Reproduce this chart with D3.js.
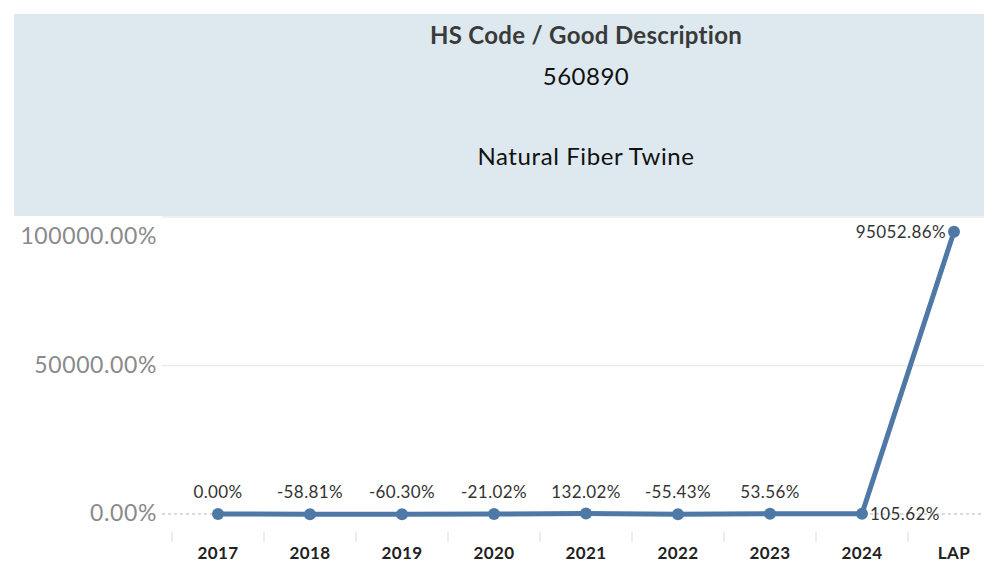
<!DOCTYPE html>
<html>
<head>
<meta charset="utf-8">
<script src="https://cdn.jsdelivr.net/npm/d3@7"></script>
<style>
  html, body { margin: 0; padding: 0; background: #fff; }
  svg { display: block; }
</style>
</head>
<body>
<svg id="chart" width="984" height="564"></svg>
<script>
// Year-over-year change for HS 560890
const categories = ["2017", "2018", "2019", "2020", "2021", "2022", "2023", "2024", "LAP"];
const changePct  = [0.00, -58.81, -60.30, -21.02, 132.02, -55.43, 53.56, 105.62, 95052.86];
const yTicks     = [0, 50000, 100000];
const headerTitle = "HS Code / Good Description";
const hsCode      = "560890";
const goodDesc    = "Natural Fiber Twine";

const svg = d3.select("#chart");
const W = 984, H = 564;
const FONT = "Lato, 'Open Sans', sans-serif";

const pane = { left: 162, right: 1010, top: 217, bottom: 514 };
const band = { start: 172, width: 92 };

// Header panel
svg.append("rect")
  .attr("x", 14).attr("y", 14)
  .attr("width", W - 14).attr("height", 202)
  .attr("fill", "#dde9ef");

const cx = (pane.left + pane.right) / 2;
const header = svg.append("g").attr("font-family", FONT)
  .attr("text-anchor", "middle");
header.append("text").attr("x", cx).attr("y", 36).attr("dy", "0.35em")
  .attr("font-size", 24).attr("font-weight", 700).attr("fill", "#3a3a3a")
  .attr("letter-spacing", 0.3)
  .text(headerTitle);
header.append("text").attr("x", cx).attr("y", 77).attr("dy", "0.35em")
  .attr("font-size", 24).attr("fill", "#111").attr("letter-spacing", 0.5)
  .text(hsCode);
header.append("text").attr("x", cx).attr("y", 157).attr("dy", "0.35em")
  .attr("font-size", 24).attr("fill", "#111").attr("letter-spacing", 0.6)
  .text(goodDesc);

// Scales
const x = d3.scaleBand()
  .domain(categories)
  .range([band.start, band.start + band.width * categories.length])
  .padding(0);
const y = d3.scaleLinear()
  .domain([0, 100000])
  .range([pane.bottom, pane.top]);

// Pane top border
svg.append("line")
  .attr("x1", pane.left).attr("x2", W)
  .attr("y1", pane.top).attr("y2", pane.top)
  .attr("stroke", "#ececec").attr("stroke-width", 1.5);

// Gridlines (non-zero)
svg.append("g").selectAll("line")
  .data(yTicks.filter(d => d !== 0 && y(d) > pane.top + 2))
  .join("line")
  .attr("x1", pane.left).attr("x2", W)
  .attr("y1", d => y(d)).attr("y2", d => y(d))
  .attr("stroke", "#ebebeb").attr("stroke-width", 1.5);

// Zero line
svg.append("line")
  .attr("x1", pane.left).attr("x2", W)
  .attr("y1", y(0)).attr("y2", y(0))
  .attr("stroke", "#b5b5b5").attr("stroke-width", 1.2)
  .attr("stroke-dasharray", "3,3");

// Percent formatter with a plain hyphen for negatives
const fmt = d => d3.format(".2f")(d).replace("\u2212", "-") + "%";

// Y axis labels
const yAxis = d3.axisLeft(y).tickValues(yTicks).tickSize(0).tickPadding(0)
  .tickFormat(fmt);
const yG = svg.append("g").attr("transform", `translate(157,0)`).call(yAxis);
yG.select(".domain").remove();
yG.selectAll("text")
  .attr("font-family", FONT)
  .attr("font-size", 23).attr("letter-spacing", 0.6).attr("fill", "#8a8a8a");
// keep the top label inside the pane
yG.selectAll(".tick").attr("transform", d => `translate(0,${Math.max(y(d), pane.top + 20)})`);

// X axis: band separators and labels
const xAxis = d3.axisBottom(x).tickSize(0).tickPadding(0);
const xG = svg.append("g").attr("transform", `translate(0,${pane.bottom})`).call(xAxis);
xG.select(".domain").remove();
xG.selectAll("text")
  .attr("y", 39).attr("dy", "0.35em")
  .attr("font-family", FONT)
  .attr("font-size", 17).attr("font-weight", 700).attr("letter-spacing", 0.4)
  .attr("fill", "#222");

svg.append("g").selectAll("line")
  .data(categories)
  .join("line")
  .attr("x1", d => x(d)).attr("x2", d => x(d))
  .attr("y1", 532).attr("y2", 542)
  .attr("stroke", "#e6e6e6").attr("stroke-width", 1.5);

// Line and points
const data = categories.map((c, i) => ({ cat: c, v: changePct[i], i }));
const color = "#4e79a7";

svg.append("path")
  .datum(data)
  .attr("fill", "none")
  .attr("stroke", color)
  .attr("stroke-width", 5)
  .attr("stroke-linejoin", "round")
  .attr("d", d3.line().x(d => x(d.cat) + x.bandwidth() / 2).y(d => y(d.v)));

svg.append("g").selectAll("circle")
  .data(data)
  .join("circle")
  .attr("cx", d => x(d.cat) + x.bandwidth() / 2)
  .attr("cy", d => y(d.v))
  .attr("r", 6)
  .attr("fill", color);

// Value labels: above by default; beside the point where the line rises steeply
svg.append("g").selectAll("text")
  .data(data)
  .join("text")
  .attr("font-family", FONT)
  .attr("font-size", 17).attr("letter-spacing", 0.4).attr("fill", "#333")
  .each(function (d) {
    const px = x(d.cat) + x.bandwidth() / 2, py = y(d.v);
    const sel = d3.select(this).attr("dy", "0.35em");
    const last = d.i === data.length - 1;
    const nextSteep = !last && (y(data[d.i + 1].v) < py - 60);
    if (last) {
      sel.attr("x", px - 8).attr("y", py).attr("text-anchor", "end");
    } else if (nextSteep) {
      sel.attr("x", px + 8).attr("y", py).attr("text-anchor", "start");
    } else {
      sel.attr("x", px).attr("y", py - 22).attr("text-anchor", "middle");
    }
  })
  .text(d => fmt(d.v));
</script>
</body>
</html>
